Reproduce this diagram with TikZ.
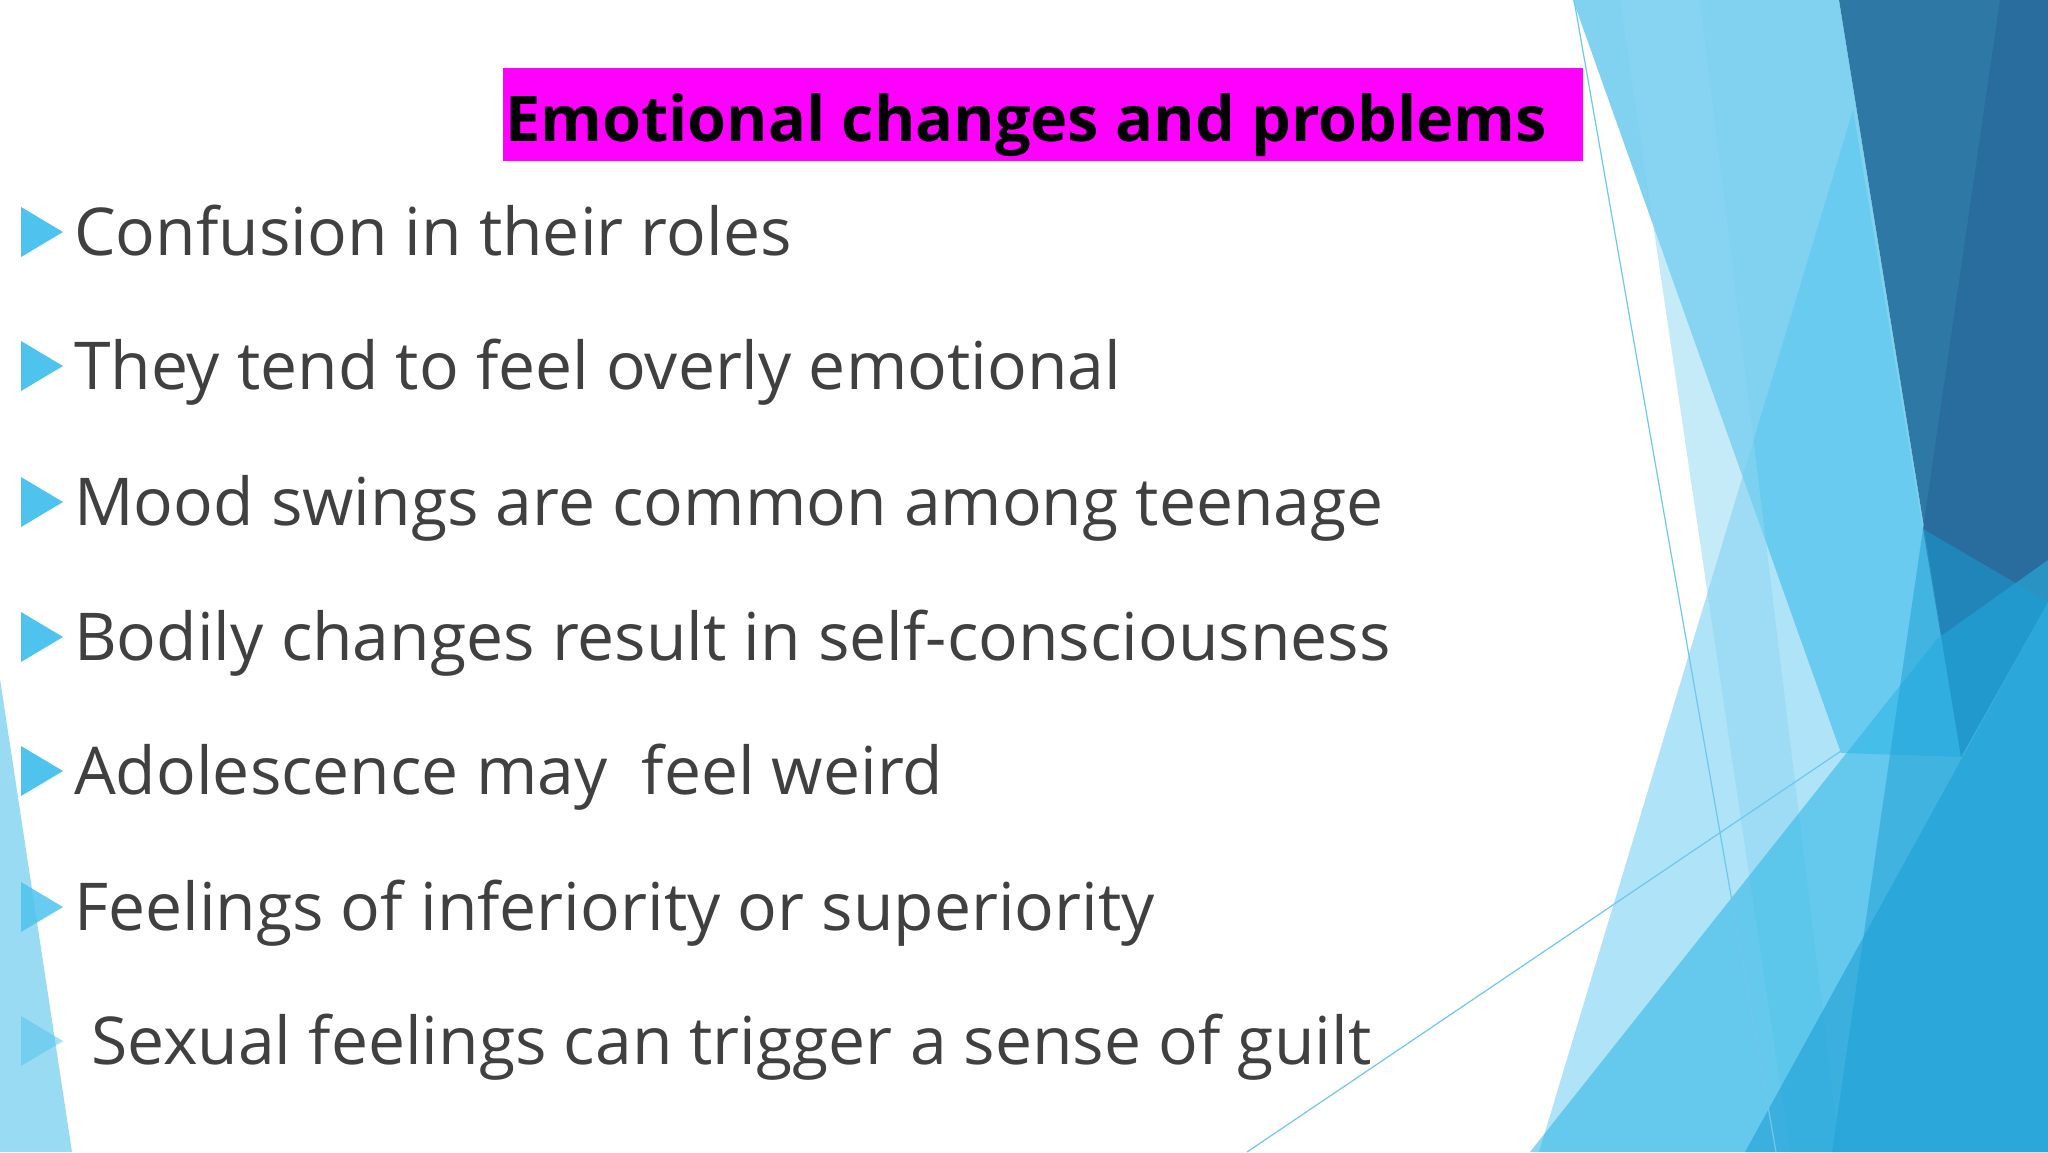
\documentclass[tikz,border=0pt]{standalone}
\usepackage{fontspec}
\setmainfont{Open Sans}
\definecolor{bulc}{RGB}{78,195,238}
\definecolor{mag}{RGB}{255,0,255}
\begin{document}
\begin{tikzpicture}[x=1pt,y=-1pt,
  item/.style={anchor=base west,inner sep=0pt,text=black!75,font=\fontsize{66}{74}\selectfont},
  bul/.style={fill=bulc}]
\useasboundingbox (0,0) rectangle (2048,1152);
\fill[white] (0,0) rectangle (2048,1152);
% decoration right
\fill[color={rgb,255:red,128;green,210;blue,240}] (1573,0)--(1839,0)--(1961,757)--(1841,753)--cycle;
\fill[color={rgb,255:red,79;green,195;blue,238},opacity=0.45] (1853,110)--(1539,1152)--(2048,1152)--(2048,602)--(1961,757)--cycle;
\fill[color={rgb,255:red,140;green,215;blue,242},opacity=0.5] (1620,0)--(1700,0)--(1840,1152)--(1790,1152)--cycle;
\fill[color={rgb,255:red,46;green,120;blue,166}] (1839,0)--(2048,0)--(2048,602)--(1961,757)--cycle;
\fill[color={rgb,255:red,40;green,105;blue,157},opacity=0.8] (2000,0)--(2048,0)--(2048,602)--(1961,757)--(1923,529)--cycle;
\fill[color={rgb,255:red,41;green,181;blue,229},opacity=0.55] (1530,1152)--(1937,639)--(2048,560)--(2048,1152)--cycle;
\fill[color={rgb,255:red,29;green,159;blue,214},opacity=0.5] (1923,529)--(1832,1152)--(2048,1152)--(2048,602)--cycle;
\fill[color={rgb,255:red,31;green,160;blue,214},opacity=0.6] (1745,1152)--(2048,602)--(2048,1152)--cycle;
\coordinate (la) at (1574,0); \coordinate (lb) at (1776,1152);
\coordinate (lc) at (1247,1152); \coordinate (ld) at (1841,751);
\draw[color={rgb,255:red,110;green,200;blue,235},line width=1.2] (la)--(lb);
\draw[color={rgb,255:red,110;green,200;blue,235},line width=1.2] (lc)--(ld);
% left strip
\fill[color={rgb,255:red,128;green,210;blue,240},opacity=0.8] (0,679)--(72,1152)--(0,1152)--cycle;
% title
\node[fill=mag,anchor=north west,minimum width=1080,minimum height=93,inner sep=0] (tb) at (503,68) {};
\node[anchor=base west,inner sep=0pt,font=\fontsize{63}{70}\selectfont\bfseries] (title) at (505,141) {Emotional changes and problems};
% items
\foreach \y/\n/\t/\xx/\op in {255/i1/Confusion in their roles/74/1,
  389/i2/They tend to feel overly emotional/74/1,
  525/i3/Mood swings are common among teenage/74/1,
  660/i4/Bodily changes result in self-consciousness/74/1,
  794/i5/Adolescence may\ \ feel weird/74/1,
  930/i6/Feelings of inferiority or superiority/74/0.85,
  1064/i7/Sexual feelings can trigger a sense of guilt/91/0.5}{
  \fill[bul,opacity=\op] (21,\y-48)--(63,\y-23)--(21,\y+2)--cycle;
  \node[item] (\n) at (\xx,\y) {\t};
}
\end{tikzpicture}
\end{document}
